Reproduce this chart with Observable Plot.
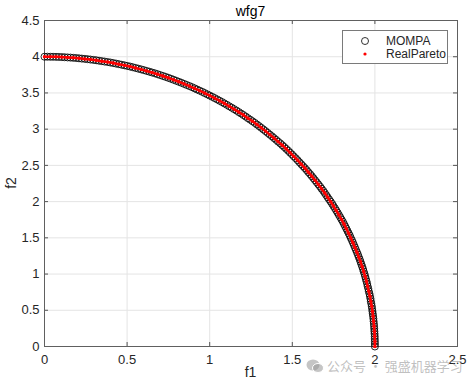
<!DOCTYPE html>
<html>
<head>
<meta charset="utf-8">
<script src="https://cdn.jsdelivr.net/npm/d3@7"></script>
<script src="https://cdn.jsdelivr.net/npm/@observablehq/plot@0.6"></script>
<style>
  html, body { margin: 0; padding: 0; background: #fff; }
  #wrap { position: relative; width: 474px; height: 386px; overflow: hidden; font-family: "Liberation Sans", Arial, sans-serif; color: #262626; }
  .ov { position: absolute; white-space: nowrap; line-height: 1; }
</style>
</head>
<body>
<div id="wrap"></div>
<script>
// ---- data ----
const title = "wfg7";
const xLabel = "f1";
const yLabel = "f2";
const seriesNames = ["MOMPA", "RealPareto"];
const xTicks = [0, 0.5, 1, 1.5, 2, 2.5];
const yTicks = [0, 0.5, 1, 1.5, 2, 2.5, 3, 3.5, 4, 4.5];
const watermark = "公众号 · 强盛机器学习";

const mompaF1 = [0.000,0.017,0.035,0.052,0.070,0.087,0.105,0.122,0.140,0.157,0.174,0.192,0.209,0.226,0.244,0.261,0.278,0.296,0.313,0.330,0.347,0.364,0.382,0.399,0.416,0.433,0.450,0.467,0.484,0.501,0.518,0.534,0.551,0.568,0.585,0.601,0.618,0.635,0.651,0.668,0.684,0.700,0.717,0.733,0.749,0.765,0.781,0.797,0.813,0.829,0.845,0.861,0.877,0.893,0.908,0.923,0.939,0.955,0.970,0.985,1.000,1.015,1.030,1.045,1.060,1.075,1.089,1.104,1.118,1.133,1.147,1.162,1.176,1.190,1.204,1.218,1.231,1.245,1.259,1.273,1.286,1.299,1.312,1.325,1.338,1.351,1.364,1.377,1.389,1.402,1.414,1.427,1.439,1.451,1.463,1.475,1.486,1.498,1.509,1.521,1.532,1.543,1.554,1.565,1.576,1.587,1.597,1.608,1.618,1.628,1.638,1.648,1.658,1.668,1.677,1.687,1.696,1.705,1.714,1.723,1.732,1.741,1.749,1.758,1.766,1.774,1.782,1.790,1.798,1.806,1.813,1.820,1.827,1.834,1.841,1.848,1.854,1.861,1.867,1.873,1.879,1.885,1.891,1.897,1.902,1.908,1.913,1.918,1.923,1.928,1.932,1.937,1.941,1.945,1.949,1.953,1.956,1.960,1.963,1.967,1.970,1.973,1.975,1.978,1.981,1.983,1.985,1.987,1.989,1.991,1.992,1.994,1.995,1.996,1.997,1.998,1.999,1.999,2.000,2.000,2.000];
const mompaF2 = [4.000,4.000,3.999,3.999,3.998,3.997,3.995,3.993,3.990,3.988,3.985,3.982,3.978,3.974,3.970,3.966,3.961,3.956,3.951,3.945,3.939,3.933,3.927,3.920,3.913,3.905,3.897,3.889,3.881,3.873,3.864,3.855,3.845,3.835,3.825,3.815,3.804,3.793,3.782,3.771,3.759,3.747,3.734,3.722,3.709,3.696,3.682,3.668,3.654,3.640,3.625,3.610,3.595,3.580,3.564,3.548,3.532,3.515,3.498,3.481,3.464,3.447,3.429,3.411,3.392,3.374,3.355,3.336,3.316,3.297,3.277,3.257,3.236,3.216,3.195,3.174,3.152,3.131,3.109,3.087,3.064,3.042,3.019,2.996,2.973,2.949,2.925,2.901,2.877,2.853,2.828,2.804,2.779,2.754,2.728,2.703,2.677,2.651,2.624,2.598,2.571,2.544,2.517,2.490,2.463,2.435,2.407,2.379,2.351,2.323,2.294,2.266,2.237,2.208,2.179,2.150,2.120,2.090,2.060,2.030,2.000,1.970,1.939,1.909,1.878,1.847,1.816,1.785,1.753,1.722,1.690,1.659,1.627,1.595,1.563,1.531,1.498,1.466,1.433,1.401,1.368,1.335,1.302,1.269,1.236,1.203,1.169,1.136,1.103,1.069,1.035,1.002,0.968,0.934,0.900,0.866,0.832,0.798,0.763,0.729,0.695,0.660,0.626,0.592,0.557,0.522,0.487,0.453,0.418,0.383,0.349,0.314,0.279,0.244,0.209,0.175,0.140,0.105,0.070,0.035,0.000];

const realF1 = [0.000,0.035,0.070,0.105,0.140,0.174,0.209,0.244,0.278,0.313,0.347,0.382,0.416,0.450,0.484,0.518,0.551,0.585,0.618,0.651,0.684,0.717,0.749,0.781,0.813,0.845,0.877,0.908,0.939,0.970,1.000,1.030,1.060,1.089,1.118,1.147,1.176,1.204,1.231,1.259,1.286,1.312,1.338,1.364,1.389,1.414,1.439,1.463,1.486,1.509,1.532,1.554,1.576,1.597,1.618,1.638,1.658,1.677,1.696,1.714,1.732,1.749,1.766,1.782,1.798,1.813,1.827,1.841,1.854,1.867,1.879,1.891,1.902,1.913,1.923,1.932,1.941,1.949,1.956,1.963,1.970,1.975,1.981,1.985,1.989,1.992,1.995,1.997,1.999,2.000,2.000];
const realF2 = [4.000,3.999,3.998,3.995,3.990,3.985,3.978,3.970,3.961,3.951,3.939,3.927,3.913,3.897,3.881,3.864,3.845,3.825,3.804,3.782,3.759,3.734,3.709,3.682,3.654,3.625,3.595,3.564,3.532,3.498,3.464,3.429,3.392,3.355,3.316,3.277,3.236,3.195,3.152,3.109,3.064,3.019,2.973,2.925,2.877,2.828,2.779,2.728,2.677,2.624,2.571,2.517,2.463,2.407,2.351,2.294,2.237,2.179,2.120,2.060,2.000,1.939,1.878,1.816,1.753,1.690,1.627,1.563,1.498,1.433,1.368,1.302,1.236,1.169,1.103,1.035,0.968,0.900,0.832,0.763,0.695,0.626,0.557,0.487,0.418,0.349,0.279,0.209,0.140,0.070,0.000];

// ---- build tables ----
const mompa = d3.range(Math.min(mompaF1.length, mompaF2.length)).map(i => ({f1: mompaF1[i], f2: mompaF2[i]}));
const real = d3.range(Math.min(realF1.length, realF2.length)).map(i => ({f1: realF1[i], f2: realF2[i]}));

const W = 474, H = 386;
const mL = 44, mR = 17, mT = 20, mB = 40;
const xDom = [0, 2.5], yDom = [0, 4.5];
const tick = 4; // px
const tY = tick * (yDom[1] - yDom[0]) / (H - mT - mB);
const tX = tick * (xDom[1] - xDom[0]) / (W - mL - mR);
const fmt = d => String(d);

const chart = Plot.plot({
  width: W, height: H,
  marginLeft: mL, marginRight: mR, marginTop: mT, marginBottom: mB,
  style: {fontFamily: "'Liberation Sans', Arial, sans-serif", fontSize: "13px", color: "#262626", background: "#fff", overflow: "visible"},
  x: {domain: xDom, ticks: xTicks, tickFormat: fmt, label: null},
  y: {domain: yDom, ticks: yTicks, tickFormat: fmt, label: null},
  marks: [
    Plot.gridX(xTicks, {stroke: "#e4e4e4", strokeOpacity: 1}),
    Plot.gridY(yTicks, {stroke: "#e4e4e4", strokeOpacity: 1}),
    Plot.axisX(xTicks, {tickSize: 0, tickPadding: 8, tickFormat: fmt, label: null, fill: "#262626", fontSize: 13}),
    Plot.axisY(yTicks, {tickSize: 0, tickPadding: 5, tickFormat: fmt, label: null, fill: "#262626", fontSize: 13}),
    Plot.ruleX(xTicks, {x: d => d, y1: () => yDom[0], y2: () => yDom[0] + tY, stroke: "#555"}),
    Plot.ruleX(xTicks, {x: d => d, y1: () => yDom[1] - tY, y2: () => yDom[1], stroke: "#555"}),
    Plot.ruleY(yTicks, {y: d => d, x1: () => xDom[0], x2: () => xDom[0] + tX, stroke: "#555"}),
    Plot.ruleY(yTicks, {y: d => d, x1: () => xDom[1] - tX, x2: () => xDom[1], stroke: "#555"}),
    Plot.frame({stroke: "#606060", strokeWidth: 1}),
    Plot.dot(mompa, {x: "f1", y: "f2", r: 3.5, stroke: "#000", strokeWidth: 0.85, fill: "none"}),
    Plot.line(real, {x: "f1", y: "f2", stroke: "#ff0000", strokeWidth: 2.5}),
    Plot.dot(real, {x: "f1", y: "f2", r: 1.7, fill: "#ff0000", stroke: "none"})
  ]
});

const wrap = document.getElementById("wrap");
wrap.appendChild(chart);

function ov(html, css) {
  const d = document.createElement("div");
  d.className = "ov";
  d.innerHTML = html;
  Object.assign(d.style, css);
  wrap.appendChild(d);
  return d;
}
// title
ov(title, {left: (mL + (W - mR)) / 2 + "px", top: "4px", transform: "translateX(-50%)", fontSize: "14px", color: "#000"});
// axis labels
ov(xLabel, {left: (mL + (W - mR)) / 2 + "px", top: "365px", transform: "translateX(-50%)", fontSize: "14px"});
ov(yLabel, {left: "11px", top: (mT + (H - mB)) / 2 + "px", transform: "translate(-50%,-50%) rotate(-90deg)", fontSize: "14px"});
// legend
const leg = ov("", {left: "342px", top: "30px", width: "104px", height: "32px", border: "1px solid #7a7a7a", background: "#fff"});
leg.innerHTML =
  `<svg width="30" height="32" style="position:absolute;left:8px;top:0">
     <circle cx="14" cy="10" r="3.5" fill="none" stroke="#000" stroke-width="0.8"/>
     <circle cx="14" cy="23" r="1.6" fill="#ff0000"/>
   </svg>
   <div style="position:absolute;left:43px;top:4px;font-size:12px;line-height:12px">${seriesNames[0]}</div>
   <div style="position:absolute;left:43px;top:17px;font-size:12px;line-height:12px">${seriesNames[1]}</div>`;
// watermark
ov(`<svg width="18" height="14" style="vertical-align:-2px;margin-right:3px">
      <ellipse cx="7" cy="6" rx="6.5" ry="5.5" fill="rgba(150,150,150,0.55)"/>
      <ellipse cx="12" cy="9" rx="5.5" ry="4.5" fill="rgba(150,150,150,0.55)" stroke="#fff" stroke-width="1"/>
    </svg>${watermark}`,
  {left: "306px", top: "359px", fontSize: "13px", fontFamily: "'Noto Sans CJK SC', sans-serif", color: "rgba(150,150,150,0.6)"});
</script>
</body>
</html>
